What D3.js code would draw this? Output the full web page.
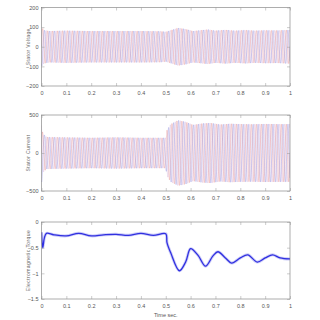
<!DOCTYPE html>
<html><head><meta charset="utf-8">
<script src="https://cdn.jsdelivr.net/npm/d3@7"></script>
<style>body{margin:0;background:#fff}svg{display:block}</style>
</head><body><svg id="c" width="320" height="320"></svg>
<script>
// ---- data ----
const xTicks = [0,0.1,0.2,0.3,0.4,0.5,0.6,0.7,0.8,0.9,1];
const xTickLabels = ["0","0.1","0.2","0.3","0.4","0.5","0.6","0.7","0.8","0.9","1"];
const voltTicks = [200,100,0,-100,-200];
const currTicks = [500,0,-500];
const torqTicks = [0,-0.5,-1,-1.5];
const freqHz = 50;
// envelope (peak amplitude) of stator voltage over time
const voltEnvT = [0,0.01,0.03,0.1,0.2,0.3,0.4,0.48,0.5,0.53,0.55,0.58,0.61,0.64,0.67,0.7,0.74,0.78,0.82,0.86,0.9,0.95,1.0];
const voltEnv  = [100,85,80,82,80,80,80,79,76,88,96,90,80,84,88,82,86,82,85,82,84,83,86];
// envelope of stator current
const currEnvT = [0,0.005,0.02,0.1,0.2,0.3,0.4,0.49,0.5,0.505,0.52,0.55,0.58,0.61,0.65,0.68,0.72,0.76,0.8,0.85,0.9,0.95,1.0];
const currEnv  = [420,260,210,205,200,205,200,200,200,300,380,430,410,370,390,395,375,385,380,378,382,380,380];
// electromagnetic torque
const torqT = [0,0.005,0.012,0.02,0.05,0.1,0.15,0.2,0.25,0.3,0.35,0.4,0.45,0.5,0.505,0.52,0.555,0.58,0.6,0.63,0.66,0.69,0.71,0.74,0.765,0.8,0.83,0.868,0.9,0.93,0.96,1.0];
const torqV = [-0.2,-0.5,-0.3,-0.22,-0.25,-0.27,-0.22,-0.27,-0.25,-0.24,-0.26,-0.22,-0.26,-0.23,-0.4,-0.6,-0.95,-0.78,-0.52,-0.65,-0.86,-0.66,-0.58,-0.7,-0.8,-0.7,-0.64,-0.78,-0.7,-0.64,-0.7,-0.72];
const phaseColors = ["#e07070","#7070d8","#d0a0d0"];
const yLabels = ["Stator Voltage","Stator Current","Electromagnetic Torque"];

// ---- drawing ----
const svg = d3.select("#c");
const L = 41.5, R = 290;
const x = d3.scaleLinear().domain([0,1]).range([L,R]);
const panels = [
  {top:7.5, bot:86, dom:[-200,200], ticks:voltTicks, label:yLabels[0]},
  {top:115, bot:191, dom:[-500,500], ticks:currTicks, label:yLabels[1]},
  {top:222, bot:299, dom:[-1.5,0], ticks:torqTicks, label:yLabels[2]}
];
const font = "Liberation Sans, Arial, sans-serif";

function envAt(T,E){ return d3.scaleLinear().domain(T).range(E).clamp(true); }
const N = 4000;
const samples = d3.range(N+1).map(i=>i/N);

panels.forEach((p,pi)=>{
  const y = d3.scaleLinear().domain(p.dom).range([p.bot,p.top]);
  const g = svg.append("g");
  const clipId = "clip"+pi;
  svg.append("clipPath").attr("id",clipId).append("rect").attr("x",L).attr("y",p.top).attr("width",R-L).attr("height",p.bot-p.top);
  const plot = g.append("g").attr("clip-path",`url(#${clipId})`);
  if(pi<2){
    const env = pi===0 ? envAt(voltEnvT,voltEnv) : envAt(currEnvT,currEnv);
    [2,0,1].forEach(k=>{
      const line = d3.line().x(t=>x(t)).y(t=>y(env(t)*Math.sin(2*Math.PI*freqHz*t - k*2*Math.PI/3)));
      plot.append("path").attr("d",line(samples)).attr("fill","none")
        .attr("stroke",phaseColors[k]).attr("stroke-width",0.4).attr("stroke-opacity",0.75);
    });
  } else {
    const line = d3.line().x((d,i)=>x(torqT[i])).y(d=>y(d)).curve(d3.curveCatmullRom);
    plot.append("path").attr("d",line(torqV)).attr("fill","none").attr("stroke","#9090f0").attr("stroke-width",3).attr("stroke-opacity",0.45);
    plot.append("path").attr("d",line(torqV)).attr("fill","none").attr("stroke","#3030e0").attr("stroke-width",1.3);
  }
  // frame
  g.append("rect").attr("x",L).attr("y",p.top).attr("width",R-L).attr("height",p.bot-p.top)
    .attr("fill","none").attr("stroke","#777").attr("stroke-width",0.6);
  // axes
  const ax = d3.axisBottom(x).tickValues(xTicks).tickFormat((d,i)=>xTickLabels[i]).tickSizeInner(-3).tickSizeOuter(0).tickPadding(5);
  const gx = g.append("g").attr("transform",`translate(0,${p.bot})`).call(ax);
  const axT = d3.axisTop(x).tickValues(xTicks).tickFormat("").tickSizeInner(-3).tickSizeOuter(0);
  const gxt = g.append("g").attr("transform",`translate(0,${p.top})`).call(axT);
  const ay = d3.axisLeft(y).tickValues(p.ticks).tickFormat(d3.format("")).tickSizeInner(-3).tickSizeOuter(0).tickPadding(3);
  const gy = g.append("g").attr("transform",`translate(${L},0)`).call(ay);
  const ayr = d3.axisRight(y).tickValues(p.ticks).tickFormat("").tickSizeInner(-3).tickSizeOuter(0);
  const gyr = g.append("g").attr("transform",`translate(${R},0)`).call(ayr);
  [gx,gxt,gy,gyr].forEach(a=>{
    a.select(".domain").remove();
    a.selectAll("line").attr("stroke","#999").attr("stroke-width",0.5);
    a.selectAll("text").attr("font-family",font).attr("font-size",5.5).attr("fill","#555");
  });
  g.append("text").attr("transform",`translate(${L-12},${(p.top+p.bot)/2}) rotate(-90)`)
    .attr("text-anchor","middle").attr("font-family",font).attr("font-size",5).attr("fill","#666")
    .attr("letter-spacing",0.4).text(p.label);
});
svg.append("text").attr("x",x(0.5)).attr("y",317).attr("text-anchor","middle")
  .attr("font-family",font).attr("font-size",5.5).attr("fill","#555").text("Time sec.");
</script></body></html>
